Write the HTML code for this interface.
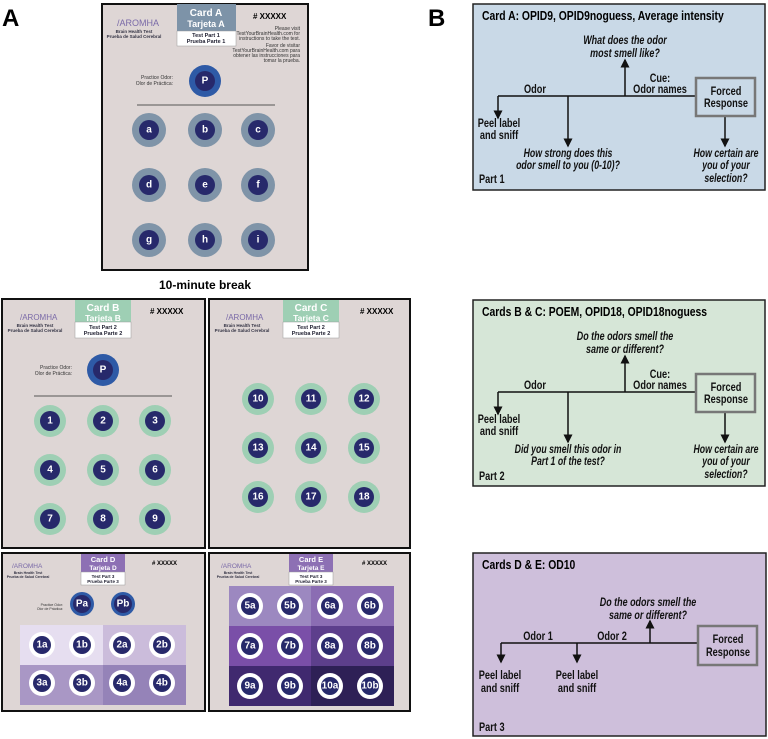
<!DOCTYPE html>
<html><head><meta charset="utf-8"><style>
html,body{margin:0;padding:0;background:#fff;}
svg{display:block;font-family:"Liberation Sans",sans-serif;}
.n{font-weight:bold;fill:#fff;font-size:10px;text-anchor:middle;dominant-baseline:central;}
.t{font-weight:bold;font-size:11.5px;fill:#111;text-anchor:middle;}
.s{text-anchor:start;}
.i{font-style:italic;}
.hd{font-weight:bold;fill:#fff;text-anchor:middle;}
.sm{font-size:5px;fill:#333;}
.ttl{font-size:12.5px;font-weight:bold;}
</style></head><body>
<svg width="768" height="739" viewBox="0 0 768 739" xmlns="http://www.w3.org/2000/svg">
<defs>
<marker id="ar" markerWidth="6" markerHeight="6" refX="5" refY="3" orient="auto"><path d="M0,0 L6,3 L0,6 z" fill="#111"/></marker>
</defs>
<text x="2" y="26" font-size="24" font-weight="bold">A</text>
<text x="428" y="26" font-size="24" font-weight="bold">B</text>

<!-- Card A -->
<rect x="102" y="4" width="206" height="266" fill="#ded6d5" stroke="#111" stroke-width="2"/>
<rect x="177" y="4" width="59" height="27" fill="#7d93a8"/>
<rect x="177" y="31" width="59" height="15" fill="#fff" stroke="#999" stroke-width=".5"/>
<text x="206" y="16" class="hd" font-size="10">Card A</text>
<text x="206" y="27" class="hd" font-size="9">Tarjeta A</text>
<text x="206" y="37" font-size="5.5" font-weight="bold" text-anchor="middle" fill="#223">Test Part 1</text>
<text x="206" y="43" font-size="5.5" font-weight="bold" text-anchor="middle" fill="#223">Prueba Parte 1</text>
<text x="117" y="26" font-size="9" fill="#7a6aa8">/AROMHA</text>
<text x="134" y="33" font-size="4.5" font-weight="bold" fill="#334" text-anchor="middle">Brain Health Test</text>
<text x="134" y="38" font-size="4.5" font-weight="bold" fill="#334" text-anchor="middle">Prueba de Salud Cerebral</text>
<text x="253" y="19" font-size="8" font-weight="bold">#  XXXXX</text>
<text x="300" y="30" class="sm" text-anchor="end">Please visit</text>
<text x="300" y="35" class="sm" text-anchor="end" fill="#224">TestYourBrainHealth.com for</text>
<text x="300" y="40" class="sm" text-anchor="end">instructions to take the test.</text>
<text x="300" y="47" class="sm" text-anchor="end">Favor de visitar</text>
<text x="300" y="52" class="sm" text-anchor="end">TestYourBrainHealth.com para</text>
<text x="300" y="57" class="sm" text-anchor="end">obtener las instrucciones para</text>
<text x="300" y="62" class="sm" text-anchor="end">tomar la prueba.</text>
<text x="173" y="79" class="sm" text-anchor="end">Practice Odor:</text>
<text x="173" y="85" class="sm" text-anchor="end">Olor de Práctica:</text>
<circle cx="205" cy="81" r="16" fill="#2e5aa6"/><circle cx="205" cy="81" r="10" fill="#27296b"/><text x="205" y="81" class="n">P</text>
<line x1="137" y1="105" x2="275" y2="105" stroke="#555" stroke-width="1"/>
<g fill="#7f94a8">
<circle cx="149" cy="130" r="17"/><circle cx="205" cy="130" r="17"/><circle cx="258" cy="130" r="17"/>
<circle cx="149" cy="185" r="17"/><circle cx="205" cy="185" r="17"/><circle cx="258" cy="185" r="17"/>
<circle cx="149" cy="240" r="17"/><circle cx="205" cy="240" r="17"/><circle cx="258" cy="240" r="17"/>
</g>
<g fill="#27296b">
<circle cx="149" cy="130" r="10"/><circle cx="205" cy="130" r="10"/><circle cx="258" cy="130" r="10"/>
<circle cx="149" cy="185" r="10"/><circle cx="205" cy="185" r="10"/><circle cx="258" cy="185" r="10"/>
<circle cx="149" cy="240" r="10"/><circle cx="205" cy="240" r="10"/><circle cx="258" cy="240" r="10"/>
</g>
<text x="149" y="130" class="n">a</text><text x="205" y="130" class="n">b</text><text x="258" y="130" class="n">c</text>
<text x="149" y="185" class="n">d</text><text x="205" y="185" class="n">e</text><text x="258" y="185" class="n">f</text>
<text x="149" y="240" class="n">g</text><text x="205" y="240" class="n">h</text><text x="258" y="240" class="n">i</text>

<text x="205" y="289" font-size="12" font-weight="bold" text-anchor="middle">10-minute break</text>

<!-- Card B -->
<rect x="2" y="299" width="203" height="249" fill="#ded6d5" stroke="#111" stroke-width="2"/>
<rect x="75" y="300" width="56" height="22" fill="#9ecfb4"/>
<rect x="75" y="322" width="56" height="16" fill="#fff" stroke="#999" stroke-width=".5"/>
<text x="103" y="311" class="hd" font-size="10">Card B</text>
<text x="103" y="321" class="hd" font-size="8.5">Tarjeta B</text>
<text x="103" y="329" font-size="5.5" font-weight="bold" text-anchor="middle" fill="#223">Test Part 2</text>
<text x="103" y="335" font-size="5.5" font-weight="bold" text-anchor="middle" fill="#223">Prueba Parte 2</text>
<text x="20" y="320" font-size="8" fill="#7a6aa8">/AROMHA</text>
<text x="35" y="327" font-size="4.5" font-weight="bold" fill="#334" text-anchor="middle">Brain Health Test</text>
<text x="35" y="332" font-size="4.5" font-weight="bold" fill="#334" text-anchor="middle">Prueba de Salud Cerebral</text>
<text x="150" y="314" font-size="8" font-weight="bold">#  XXXXX</text>
<text x="72" y="369" class="sm" text-anchor="end">Practice Odor:</text>
<text x="72" y="375" class="sm" text-anchor="end">Olor de Práctica:</text>
<circle cx="103" cy="370" r="16" fill="#2e5aa6"/><circle cx="103" cy="370" r="10" fill="#27296b"/><text x="103" y="370" class="n">P</text>
<line x1="34" y1="396" x2="172" y2="396" stroke="#555" stroke-width="1"/>
<g fill="#9ecfb4">
<circle cx="50" cy="421" r="16"/><circle cx="103" cy="421" r="16"/><circle cx="155" cy="421" r="16"/>
<circle cx="50" cy="470" r="16"/><circle cx="103" cy="470" r="16"/><circle cx="155" cy="470" r="16"/>
<circle cx="50" cy="519" r="16"/><circle cx="103" cy="519" r="16"/><circle cx="155" cy="519" r="16"/>
</g>
<g fill="#27296b">
<circle cx="50" cy="421" r="10"/><circle cx="103" cy="421" r="10"/><circle cx="155" cy="421" r="10"/>
<circle cx="50" cy="470" r="10"/><circle cx="103" cy="470" r="10"/><circle cx="155" cy="470" r="10"/>
<circle cx="50" cy="519" r="10"/><circle cx="103" cy="519" r="10"/><circle cx="155" cy="519" r="10"/>
</g>
<text x="50" y="421" class="n">1</text><text x="103" y="421" class="n">2</text><text x="155" y="421" class="n">3</text>
<text x="50" y="470" class="n">4</text><text x="103" y="470" class="n">5</text><text x="155" y="470" class="n">6</text>
<text x="50" y="519" class="n">7</text><text x="103" y="519" class="n">8</text><text x="155" y="519" class="n">9</text>

<!-- Card C -->
<rect x="209" y="299" width="201" height="249" fill="#ded6d5" stroke="#111" stroke-width="2"/>
<rect x="283" y="300" width="56" height="22" fill="#9ecfb4"/>
<rect x="283" y="322" width="56" height="16" fill="#fff" stroke="#999" stroke-width=".5"/>
<text x="311" y="311" class="hd" font-size="10">Card C</text>
<text x="311" y="321" class="hd" font-size="8.5">Tarjeta C</text>
<text x="311" y="329" font-size="5.5" font-weight="bold" text-anchor="middle" fill="#223">Test Part 2</text>
<text x="311" y="335" font-size="5.5" font-weight="bold" text-anchor="middle" fill="#223">Prueba Parte 2</text>
<text x="226" y="320" font-size="8" fill="#7a6aa8">/AROMHA</text>
<text x="242" y="327" font-size="4.5" font-weight="bold" fill="#334" text-anchor="middle">Brain Health Test</text>
<text x="242" y="332" font-size="4.5" font-weight="bold" fill="#334" text-anchor="middle">Prueba de Salud Cerebral</text>
<text x="360" y="314" font-size="8" font-weight="bold">#  XXXXX</text>
<g fill="#9ecfb4">
<circle cx="258" cy="399" r="16"/><circle cx="311" cy="399" r="16"/><circle cx="364" cy="399" r="16"/>
<circle cx="258" cy="448" r="16"/><circle cx="311" cy="448" r="16"/><circle cx="364" cy="448" r="16"/>
<circle cx="258" cy="497" r="16"/><circle cx="311" cy="497" r="16"/><circle cx="364" cy="497" r="16"/>
</g>
<g fill="#27296b">
<circle cx="258" cy="399" r="10"/><circle cx="311" cy="399" r="10"/><circle cx="364" cy="399" r="10"/>
<circle cx="258" cy="448" r="10"/><circle cx="311" cy="448" r="10"/><circle cx="364" cy="448" r="10"/>
<circle cx="258" cy="497" r="10"/><circle cx="311" cy="497" r="10"/><circle cx="364" cy="497" r="10"/>
</g>
<text x="258" y="399" class="n">10</text><text x="311" y="399" class="n">11</text><text x="364" y="399" class="n">12</text>
<text x="258" y="448" class="n">13</text><text x="311" y="448" class="n">14</text><text x="364" y="448" class="n">15</text>
<text x="258" y="497" class="n">16</text><text x="311" y="497" class="n">17</text><text x="364" y="497" class="n">18</text>

<!-- Card D -->
<rect x="2" y="553" width="203" height="158" fill="#ded6d5" stroke="#111" stroke-width="2"/>
<rect x="81" y="554" width="44" height="18" fill="#8d70b4"/>
<rect x="81" y="572" width="44" height="13" fill="#fff" stroke="#999" stroke-width=".5"/>
<text x="103" y="562" class="hd" font-size="7.5">Card D</text>
<text x="103" y="570" class="hd" font-size="6.5">Tarjeta D</text>
<text x="103" y="578" font-size="4.5" font-weight="bold" text-anchor="middle" fill="#223">Test Part 3</text>
<text x="103" y="583" font-size="4.5" font-weight="bold" text-anchor="middle" fill="#223">Prueba Parte 3</text>
<text x="12" y="568" font-size="6.5" fill="#7a6aa8">/AROMHA</text>
<text x="28" y="574" font-size="3.5" font-weight="bold" fill="#334" text-anchor="middle">Brain Health Test</text>
<text x="28" y="578" font-size="3.5" font-weight="bold" fill="#334" text-anchor="middle">Prueba de Salud Cerebral</text>
<text x="152" y="565" font-size="6" font-weight="bold"># XXXXX</text>
<text x="63" y="606" font-size="3.5" fill="#333" text-anchor="end">Practice Odor:</text>
<text x="63" y="610" font-size="3.5" fill="#333" text-anchor="end">Olor de Práctica:</text>
<circle cx="82" cy="604" r="12" fill="#2e5aa6"/><circle cx="82" cy="604" r="9" fill="#27296b"/><text x="82" y="604" class="n">Pa</text>
<circle cx="123" cy="604" r="12" fill="#2e5aa6"/><circle cx="123" cy="604" r="9" fill="#27296b"/><text x="123" y="604" class="n">Pb</text>
<rect x="20" y="625" width="83" height="40" fill="#e6def0"/>
<rect x="103" y="625" width="83" height="40" fill="#cbbcdb"/>
<rect x="20" y="665" width="83" height="40" fill="#a997c5"/>
<rect x="103" y="665" width="83" height="40" fill="#9583b8"/>
<g fill="#fff">
<circle cx="42" cy="645" r="13"/><circle cx="82" cy="645" r="13"/><circle cx="122" cy="645" r="13"/><circle cx="162" cy="645" r="13"/>
<circle cx="42" cy="683" r="13"/><circle cx="82" cy="683" r="13"/><circle cx="122" cy="683" r="13"/><circle cx="162" cy="683" r="13"/>
</g>
<g fill="#27296b">
<circle cx="42" cy="645" r="9"/><circle cx="82" cy="645" r="9"/><circle cx="122" cy="645" r="9"/><circle cx="162" cy="645" r="9"/>
<circle cx="42" cy="683" r="9"/><circle cx="82" cy="683" r="9"/><circle cx="122" cy="683" r="9"/><circle cx="162" cy="683" r="9"/>
</g>
<text x="42" y="645" class="n">1a</text><text x="82" y="645" class="n">1b</text><text x="122" y="645" class="n">2a</text><text x="162" y="645" class="n">2b</text>
<text x="42" y="683" class="n">3a</text><text x="82" y="683" class="n">3b</text><text x="122" y="683" class="n">4a</text><text x="162" y="683" class="n">4b</text>

<!-- Card E -->
<rect x="209" y="553" width="201" height="158" fill="#ded6d5" stroke="#111" stroke-width="2"/>
<rect x="289" y="554" width="44" height="18" fill="#8d70b4"/>
<rect x="289" y="572" width="44" height="13" fill="#fff" stroke="#999" stroke-width=".5"/>
<text x="311" y="562" class="hd" font-size="7.5">Card E</text>
<text x="311" y="570" class="hd" font-size="6.5">Tarjeta E</text>
<text x="311" y="578" font-size="4.5" font-weight="bold" text-anchor="middle" fill="#223">Test Part 3</text>
<text x="311" y="583" font-size="4.5" font-weight="bold" text-anchor="middle" fill="#223">Prueba Parte 3</text>
<text x="221" y="568" font-size="6.5" fill="#7a6aa8">/AROMHA</text>
<text x="238" y="574" font-size="3.5" font-weight="bold" fill="#334" text-anchor="middle">Brain Health Test</text>
<text x="238" y="578" font-size="3.5" font-weight="bold" fill="#334" text-anchor="middle">Prueba de Salud Cerebral</text>
<text x="362" y="565" font-size="6" font-weight="bold"># XXXXX</text>
<rect x="229" y="586" width="82" height="40" fill="#9c88c0"/>
<rect x="311" y="586" width="83" height="40" fill="#8b6db3"/>
<rect x="229" y="626" width="82" height="40" fill="#7a4fa8"/>
<rect x="311" y="626" width="83" height="40" fill="#5d3f8c"/>
<rect x="229" y="666" width="82" height="40" fill="#40296f"/>
<rect x="311" y="666" width="83" height="40" fill="#2e2056"/>
<g fill="#fff">
<circle cx="250" cy="606" r="13"/><circle cx="290" cy="606" r="13"/><circle cx="330" cy="606" r="13"/><circle cx="370" cy="606" r="13"/>
<circle cx="250" cy="646" r="13"/><circle cx="290" cy="646" r="13"/><circle cx="330" cy="646" r="13"/><circle cx="370" cy="646" r="13"/>
<circle cx="250" cy="686" r="13"/><circle cx="290" cy="686" r="13"/><circle cx="330" cy="686" r="13"/><circle cx="370" cy="686" r="13"/>
</g>
<g fill="#27296b">
<circle cx="250" cy="606" r="9"/><circle cx="290" cy="606" r="9"/><circle cx="330" cy="606" r="9"/><circle cx="370" cy="606" r="9"/>
<circle cx="250" cy="646" r="9"/><circle cx="290" cy="646" r="9"/><circle cx="330" cy="646" r="9"/><circle cx="370" cy="646" r="9"/>
<circle cx="250" cy="686" r="9"/><circle cx="290" cy="686" r="9"/><circle cx="330" cy="686" r="9"/><circle cx="370" cy="686" r="9"/>
</g>
<text x="250" y="606" class="n">5a</text><text x="290" y="606" class="n">5b</text><text x="330" y="606" class="n">6a</text><text x="370" y="606" class="n">6b</text>
<text x="250" y="646" class="n">7a</text><text x="290" y="646" class="n">7b</text><text x="330" y="646" class="n">8a</text><text x="370" y="646" class="n">8b</text>
<text x="250" y="686" class="n">9a</text><text x="290" y="686" class="n">9b</text><text x="330" y="686" class="n" font-size="9">10a</text><text x="370" y="686" class="n" font-size="9">10b</text>

<!-- Panel 1 -->
<rect x="473" y="4" width="292" height="186" fill="#c9d9e7" stroke="#222" stroke-width="1.5"/>
<text class="ttl" transform="translate(482 20) scale(.83 1)">Card A: OPID9, OPID9noguess, Average intensity</text>
<g stroke="#111" stroke-width="1.5" fill="none">
<line x1="498" y1="96" x2="696" y2="96"/>
<line x1="625" y1="96" x2="625" y2="60" marker-end="url(#ar)"/>
<line x1="498" y1="96" x2="498" y2="118" marker-end="url(#ar)"/>
<line x1="568" y1="96" x2="568" y2="146" marker-end="url(#ar)"/>
<line x1="725" y1="116" x2="725" y2="146" marker-end="url(#ar)"/>
</g>
<rect x="696" y="78" width="59" height="38" fill="#c9d9e7" stroke="#777" stroke-width="2.5"/>
<text class="t" transform="translate(726 95) scale(.8 1)">Forced</text><text class="t" transform="translate(726 107) scale(.8 1)">Response</text>
<text class="t i" transform="translate(625 44) scale(.78 1)">What does the odor</text><text class="t i" transform="translate(625 57) scale(.78 1)">most smell like?</text>
<text class="t" transform="translate(660 82) scale(.8 1)">Cue:</text><text class="t" transform="translate(660 93) scale(.8 1)">Odor names</text>
<text class="t" transform="translate(535 93) scale(.8 1)">Odor</text>
<text class="t" transform="translate(499 127) scale(.8 1)">Peel label</text><text class="t" transform="translate(499 139) scale(.8 1)">and sniff</text>
<text class="t i" transform="translate(568 157) scale(.76 1)">How strong does this</text><text class="t i" transform="translate(568 169) scale(.76 1)">odor smell to you (0-10)?</text>
<text class="t i" transform="translate(726 157) scale(.76 1)">How certain are</text><text class="t i" transform="translate(726 169) scale(.76 1)">you of your</text><text class="t i" transform="translate(726 182) scale(.76 1)">selection?</text>
<text class="t s" transform="translate(479 183) scale(.8 1)">Part 1</text>

<!-- Panel 2 -->
<rect x="473" y="300" width="292" height="186" fill="#d6e6d7" stroke="#222" stroke-width="1.5"/>
<text class="ttl" transform="translate(482 316) scale(.83 1)">Cards B &amp; C: POEM, OPID18, OPID18noguess</text>
<g stroke="#111" stroke-width="1.5" fill="none">
<line x1="498" y1="392" x2="696" y2="392"/>
<line x1="625" y1="392" x2="625" y2="356" marker-end="url(#ar)"/>
<line x1="498" y1="392" x2="498" y2="414" marker-end="url(#ar)"/>
<line x1="568" y1="392" x2="568" y2="442" marker-end="url(#ar)"/>
<line x1="725" y1="412" x2="725" y2="442" marker-end="url(#ar)"/>
</g>
<rect x="696" y="374" width="59" height="38" fill="#d6e6d7" stroke="#777" stroke-width="2.5"/>
<text class="t" transform="translate(726 391) scale(.8 1)">Forced</text><text class="t" transform="translate(726 403) scale(.8 1)">Response</text>
<text class="t i" transform="translate(625 340) scale(.78 1)">Do the odors smell the</text><text class="t i" transform="translate(625 353) scale(.78 1)">same or different?</text>
<text class="t" transform="translate(660 378) scale(.8 1)">Cue:</text><text class="t" transform="translate(660 389) scale(.8 1)">Odor names</text>
<text class="t" transform="translate(535 389) scale(.8 1)">Odor</text>
<text class="t" transform="translate(499 423) scale(.8 1)">Peel label</text><text class="t" transform="translate(499 435) scale(.8 1)">and sniff</text>
<text class="t i" transform="translate(568 453) scale(.76 1)">Did you smell this odor in</text><text class="t i" transform="translate(568 465) scale(.76 1)">Part 1 of the test?</text>
<text class="t i" transform="translate(726 453) scale(.76 1)">How certain are</text><text class="t i" transform="translate(726 465) scale(.76 1)">you of your</text><text class="t i" transform="translate(726 478) scale(.76 1)">selection?</text>
<text class="t s" transform="translate(479 480) scale(.8 1)">Part 2</text>

<!-- Panel 3 -->
<rect x="473" y="553" width="293" height="183" fill="#cebfdb" stroke="#222" stroke-width="1.5"/>
<text class="ttl" transform="translate(482 569) scale(.83 1)">Cards D &amp; E: OD10</text>
<g stroke="#111" stroke-width="1.5" fill="none">
<line x1="501" y1="643" x2="698" y2="643"/>
<line x1="650" y1="643" x2="650" y2="621" marker-end="url(#ar)"/>
<line x1="501" y1="643" x2="501" y2="662" marker-end="url(#ar)"/>
<line x1="577" y1="643" x2="577" y2="662" marker-end="url(#ar)"/>
</g>
<rect x="698" y="626" width="59" height="39" fill="#cebfdb" stroke="#777" stroke-width="2.5"/>
<text class="t" transform="translate(728 643) scale(.8 1)">Forced</text><text class="t" transform="translate(728 656) scale(.8 1)">Response</text>
<text class="t i" transform="translate(648 606) scale(.78 1)">Do the odors smell the</text><text class="t i" transform="translate(648 619) scale(.78 1)">same or different?</text>
<text class="t" transform="translate(538 640) scale(.8 1)">Odor 1</text><text class="t" transform="translate(612 640) scale(.8 1)">Odor 2</text>
<text class="t" transform="translate(500 679) scale(.8 1)">Peel label</text><text class="t" transform="translate(500 692) scale(.8 1)">and sniff</text>
<text class="t" transform="translate(577 679) scale(.8 1)">Peel label</text><text class="t" transform="translate(577 692) scale(.8 1)">and sniff</text>
<text class="t s" transform="translate(479 731) scale(.8 1)">Part 3</text>
</svg>
</body></html>
